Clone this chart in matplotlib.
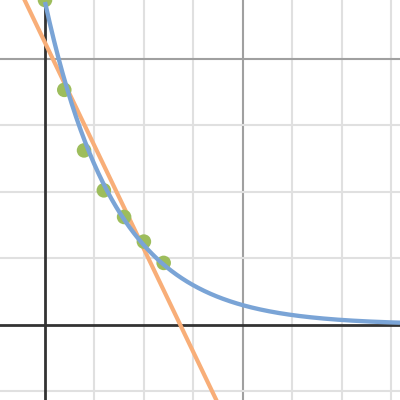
import numpy as np
import matplotlib
matplotlib.use("Agg")
import matplotlib.pyplot as plt

# sample points (green)
point_x = [0.0, 0.39, 0.79, 1.19, 1.60, 2.00, 2.40]
point_y = [4.88, 3.53, 2.62, 2.02, 1.62, 1.25, 0.93]

# exponential fit y = a * exp(-b x) (blue)
exp_a = 4.85
exp_b = 0.70

# linear fit y = m x + c (orange)
lin_m = -1.55
lin_c = 4.24

x_min, x_max = -0.91, 7.18
y_min, y_max = -1.13, 4.88

fig = plt.figure(figsize=(4, 4), dpi=100)
ax = fig.add_axes([0, 0, 1, 1])
ax.set_xlim(x_min, x_max)
ax.set_ylim(y_min, y_max)

# grid like desmos
for gx in range(-1, 8):
    if gx == 0:
        continue
    c = "#a0a0a0" if gx % 4 == 0 else "#e0e0e0"
    ax.axvline(gx, color=c, lw=1.5, zorder=0)
for gy in range(-1, 5):
    if gy == 0:
        continue
    c = "#a0a0a0" if gy % 4 == 0 else "#e0e0e0"
    ax.axhline(gy, color=c, lw=1.5, zorder=0)
ax.axvline(0, color="#333333", lw=2.0, zorder=1)
ax.axhline(0, color="#333333", lw=2.0, zorder=1)

xs = np.linspace(x_min, x_max, 400)
ax.plot(xs, lin_m * xs + lin_c, color="#f8ae78", lw=3.0, zorder=2,
        solid_capstyle="butt")
ax.scatter(point_x, point_y, s=110, color="#9dbd5c", edgecolors="none",
           zorder=3)
xe = np.linspace(0, x_max, 400)
ax.plot(xe, exp_a * np.exp(-exp_b * xe), color="#7aa4d6", lw=3.1, zorder=4,
        solid_capstyle="butt")

ax.set_xticks([])
ax.set_yticks([])
for s in ax.spines.values():
    s.set_visible(False)

fig.savefig("out.png", dpi=100)
